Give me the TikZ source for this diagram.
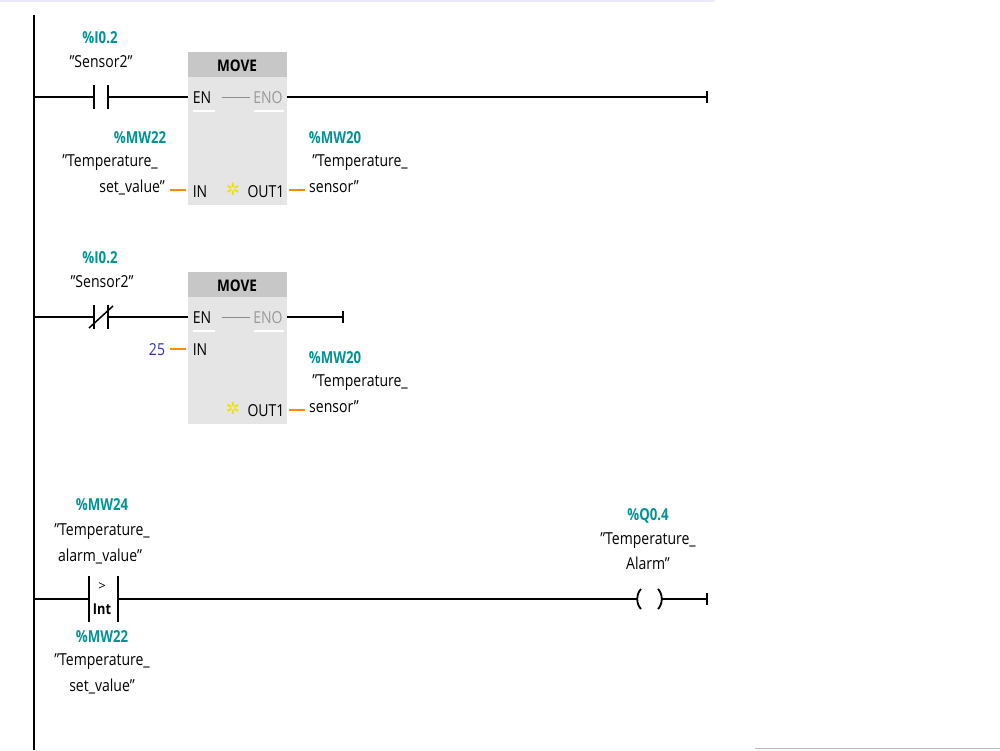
\documentclass[tikz,border=0pt]{standalone}
\usepackage{fontspec}
\setmainfont{Open Sans}
\newcommand{\qq}{\symbol{34}}
\begin{document}
\begin{tikzpicture}[x=1pt,y=-1pt,
  wire/.style={line width=2pt,black},
  lbl/.style={inner sep=0pt,font=\fontsize{16.5}{16.5}\selectfont\addfontfeature{FakeStretch=0.85}},
  addr/.style={lbl,text=teal!85!cyan,font=\fontsize{16.5}{16.5}\selectfont\bfseries\addfontfeature{FakeStretch=0.8}},
  pin/.style={lbl},
  orange/.style={line width=2.5pt,color=orange!90!yellow},
  blk/.style={fill=black!10,draw=none},
  hdr/.style={fill=black!22,draw=none}]
\useasboundingbox (0,0) rectangle (1000,750);
\fill[white] (0,0) rectangle (1000,750);
\draw[line width=2pt,black!10!blue!8] (0,1) -- (715,1);
\draw[line width=1pt,black!25] (755,748) -- (1000,748);
% left rail
\draw[wire] (34,15) coordinate (railtop) -- (34,750) coordinate (railbot);
%%% Rung 1
\coordinate (r1a) at (34,97); \coordinate (c1l) at (94,97); \coordinate (c1r) at (108,97);
\coordinate (b1en) at (188,97); \coordinate (b1eno) at (287,97); \coordinate (r1end) at (707,97);
\draw[wire] (r1a) -- (c1l); \draw[wire] (c1r) -- (b1en); \draw[wire] (b1eno) -- (r1end);
\draw[wire] (94,85) -- (94,109); \draw[wire] (108,85) -- (108,109);
\draw[line width=1.5pt] (707,91) -- (707,103);
\node[addr] (a1) at (100,38) {\%I0.2};
\node[lbl] (s1) at (101,62) {\qq Sensor2\qq};
\fill[blk] (188,52) rectangle (287,205);
\fill[hdr] (188,52) rectangle (287,77);
\node[lbl,font=\fontsize{16}{16}\selectfont\bfseries\addfontfeature{FakeStretch=0.85}] (m1) at (237,66) {MOVE};
\node[pin] (en1) at (202,98) {EN};
\node[pin,text=black!40] (eno1) at (268,98) {ENO};
\draw[black!45,line width=1pt] (222,97) -- (250,97);
\draw[white,line width=1.5pt] (193,111) -- (215,111) (254,111) -- (284,111);
\node[pin] (in1) at (200,192) {IN};
\node[pin] (out1) at (266,192) {OUT1};
\node[lbl,text=yellow!85!olive] (st1) at (233,189) {\fontspec{DejaVu Sans}\fontsize{17}{17}\selectfont ✲};
\draw[orange] (170,190) -- (186,190); \draw[orange] (289,190) -- (305,190);
\node[addr] (mw22a) at (140,138) {\%MW22};
\node[lbl] (t1) at (110,163) {\qq Temperature\_};
\node[lbl,anchor=east] (sv1) at (165,187) {set\_value\qq};
\node[addr] (mw20a) at (335,138) {\%MW20};
\node[lbl] (t2) at (360,163) {\qq Temperature\_};
\node[lbl,anchor=west] (se1) at (309,187) {sensor\qq};
%%% Rung 2
\coordinate (r2a) at (34,317); \coordinate (c2l) at (94,317); \coordinate (c2r) at (108,317);
\coordinate (b2en) at (188,317); \coordinate (b2eno) at (287,317); \coordinate (r2end) at (343,317);
\draw[wire] (r2a) -- (c2l); \draw[wire] (c2r) -- (b2en); \draw[wire] (b2eno) -- (r2end);
\draw[wire] (94,305) -- (94,329); \draw[wire] (108,305) -- (108,329);
\draw[line width=1.5pt] (89,328) -- (113,306);
\draw[line width=1.5pt] (343,311) -- (343,323);
\node[addr] (a2) at (100,258) {\%I0.2};
\node[lbl] (s2) at (102,282) {\qq Sensor2\qq};
\fill[blk] (188,272) rectangle (287,424);
\fill[hdr] (188,272) rectangle (287,297);
\node[lbl,font=\fontsize{16}{16}\selectfont\bfseries\addfontfeature{FakeStretch=0.85}] (m2) at (237,286) {MOVE};
\node[pin] (en2) at (202,318) {EN};
\node[pin,text=black!40] (eno2) at (268,318) {ENO};
\draw[black!45,line width=1pt] (222,317) -- (250,317);
\draw[white,line width=1.5pt] (193,331) -- (215,331) (254,331) -- (284,331);
\node[pin] (in2) at (200,350) {IN};
\node[pin] (out2) at (266,411) {OUT1};
\node[lbl,text=yellow!85!olive] (st2) at (233,408) {\fontspec{DejaVu Sans}\fontsize{17}{17}\selectfont ✲};
\draw[orange] (170,349) -- (186,349); \draw[orange] (289,410) -- (305,410);
\node[lbl,text=blue!60!black!80] (k25) at (157,350) {25};
\node[addr] (mw20b) at (335,358) {\%MW20};
\node[lbl] (t3) at (360,383) {\qq Temperature\_};
\node[lbl,anchor=west] (se2) at (309,407) {sensor\qq};
%%% Rung 3
\coordinate (r3a) at (34,599); \coordinate (k3l) at (89,599); \coordinate (k3r) at (118,599);
\coordinate (coil) at (637,599); \coordinate (coilr) at (662,599); \coordinate (r3end) at (707,599);
\draw[wire] (r3a) -- (k3l); \draw[wire] (k3r) -- (coil); \draw[wire] (coilr) -- (r3end);
\draw[wire] (89,576) -- (89,622); \draw[wire] (118,576) -- (118,622);
\node[lbl,font=\fontsize{13}{13}\selectfont] (gt) at (102,587) {>};
\node[lbl,font=\fontsize{15}{15}\selectfont\bfseries\addfontfeature{FakeStretch=0.85}] (int) at (102,609) {Int};
\draw[line width=1.8pt] (641,589) .. controls (636,594) and (636,604) .. (641,609);
\draw[line width=1.8pt] (658,589) .. controls (663,594) and (663,604) .. (658,609);
\draw[line width=1.5pt] (707,593) -- (707,605);
\node[addr] (mw24) at (102,505) {\%MW24};
\node[lbl] (t4) at (102,532) {\qq Temperature\_};
\node[lbl] (av) at (100,556) {alarm\_value\qq};
\node[addr] (mw22b) at (102,637) {\%MW22};
\node[lbl] (t5) at (102,662) {\qq Temperature\_};
\node[lbl] (sv2) at (102,686) {set\_value\qq};
\node[addr] (q04) at (648,516) {\%Q0.4};
\node[lbl] (t6) at (648,541) {\qq Temperature\_};
\node[lbl] (al) at (648,563) {Alarm\qq};
\end{tikzpicture}
\end{document}
